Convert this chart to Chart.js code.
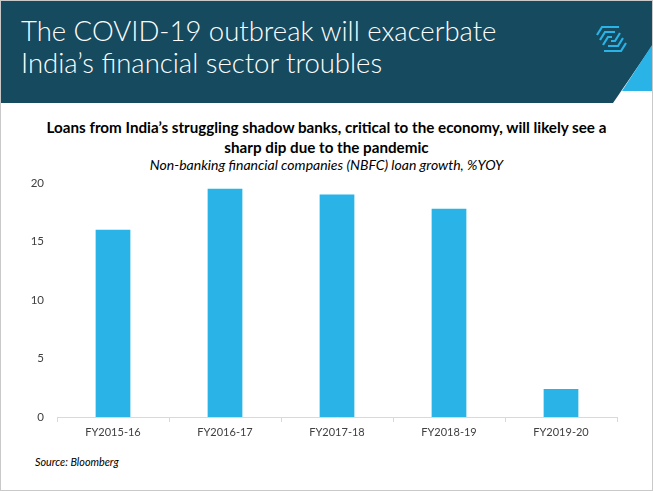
<!DOCTYPE html>
<html>
<head>
<meta charset="utf-8">
<script src="https://cdn.jsdelivr.net/npm/chart.js@4/dist/chart.umd.min.js"></script>
<style>
  html, body { margin: 0; padding: 0; background: #fff; }
  #frame { position: relative; width: 653px; height: 491px; box-sizing: border-box;
           border: 1px solid #c9c9c9; overflow: hidden; font-family: Lato, "Open Sans", sans-serif; }
  #head { position: absolute; left: 0; top: 0; }
  #title { position: absolute; left: 20px; top: 14px; color: #fff; font-size: 27.5px; font-weight: 300; line-height: 32px; }
  #sub { position: absolute; left: 0; width: 651px; top: 116px; text-align: center;
         font-weight: bold; font-size: 15.2px; line-height: 20px; color: #000; }
  #sub2 { position: absolute; left: 0; width: 651px; top: 155px; text-align: center;
          font-style: italic; font-size: 14px; color: #000; }
  #wrap { position: absolute; left: 0; top: 162px; width: 651px; height: 278px; }
  #src { position: absolute; left: 34px; top: 454px; font-style: italic; font-size: 10.8px; color: #000; }
</style>
</head>
<body>
<div id="frame">
  <svg id="head" width="653" height="103">
    <polygon points="0,0 653,0 653,42 612,102 0,102" fill="#164a5e"/>
    <polygon points="651,44 651,90 621,90" fill="#29b3e7"/>
    <g fill="none" stroke="#29b3e7" stroke-width="2.2" stroke-linejoin="miter">
      <polyline points="596,34 601,26 618,26"/>
      <polyline points="599,39 604,31 614,31"/>
      <polyline points="602,44 607,36 611,36"/>
      <polyline points="625,42 620,50 603,50"/>
      <polyline points="622,37 617,45 607,45"/>
      <polyline points="619,32 614,40 610,40"/>
    </g>
  </svg>
  <div id="title">The COVID-19 outbreak will exacerbate<br>India’s financial sector troubles</div>
  <div id="sub">Loans from India’s struggling shadow banks, critical to the economy, will likely see a<br>sharp dip due to the pandemic</div>
  <div id="sub2">Non-banking financial companies (NBFC) loan growth, %YOY</div>
  <div id="wrap"><canvas id="c"></canvas></div>
  <div id="src">Source: Bloomberg</div>
</div>
<script>
const years = ["FY2015-16", "FY2016-17", "FY2017-18", "FY2018-19", "FY2019-20"];
const loanGrowth = [16.0, 19.5, 19.0, 17.8, 2.4];
const yTicks = [0, 5, 10, 15, 20];

const ctx = document.getElementById("c");

new Chart(ctx, {
  type: "bar",
  data: {
    labels: years,
    datasets: [
      {
        label: "NBFC loan growth",
        data: loanGrowth,
        backgroundColor: "#29b3e7",
        barPercentage: 0.31,
        categoryPercentage: 1,
      },
    ],
  },
  options: {
    responsive: true,
    maintainAspectRatio: false,
    animation: false,
    layout: { padding: { top: 0, right: 35, left: 0, bottom: 0 } },
    plugins: { legend: { display: false }, tooltip: { enabled: false } },
    scales: {
      x: {
        grid: { offset: true, drawOnChartArea: false, drawTicks: true, tickLength: 5, color: "#d9d9d9" },
        border: { color: "#d9d9d9" },
        ticks: { color: "#404040", font: { family: "Lato", size: 11 }, padding: 4 },
        afterFit: (s) => { s.height = 24; },
      },
      y: {
        min: yTicks[0],
        max: yTicks[yTicks.length - 1],
        grid: { display: false, drawTicks: false },
        border: { display: false },
        ticks: { stepSize: 5, color: "#404040", font: { family: "Lato", size: 11.5 }, padding: 13 },
        afterFit: (s) => { s.width = 56; },
      },
    },
  },
});
</script>
</body>
</html>
